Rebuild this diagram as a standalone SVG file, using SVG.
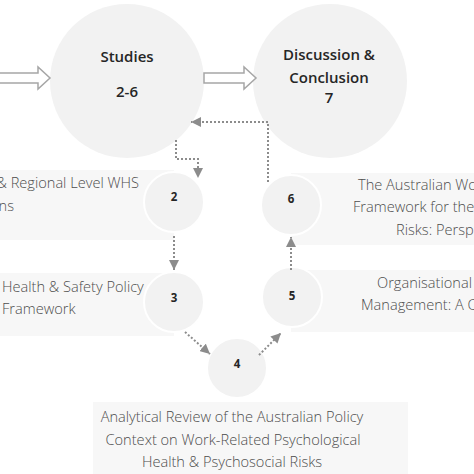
<svg xmlns="http://www.w3.org/2000/svg" width="474" height="474" viewBox="0 0 474 474">
<style>
.big{fill:#f2f2f2}
.sm{fill:#f2f2f2;stroke:#ffffff;stroke-width:2}
.box{fill:#f7f7f7}
.hollow{fill:#ffffff;stroke:#a6a6a6;stroke-width:1.5}
.dot{fill:none;stroke:#8c8c8c;stroke-width:2;stroke-dasharray:2 2}
.title{font-family:"Open Sans","Noto Sans",sans-serif;font-weight:600;font-size:15px;fill:#262626;text-anchor:middle}
.num{font-family:"Open Sans","Noto Sans",sans-serif;font-weight:700;font-size:11.5px;fill:#262626;text-anchor:middle}
.desc{font-family:"Open Sans","Noto Sans",sans-serif;font-weight:300;font-size:14.6px;fill:#4d4d4d}
</style>
<defs>
<marker id="ah" markerUnits="userSpaceOnUse" markerWidth="10" markerHeight="10" refX="10" refY="5" orient="auto">
<path d="M0,0 L10,5 L0,10 Z" fill="#8c8c8c"/>
</marker>
</defs>
<rect width="474" height="474" fill="#ffffff"/>

<g id="box-2"><rect class="box" x="0" y="170" width="174" height="70"/>
<text class="desc" x="139" y="188" text-anchor="end">&amp; Regional Level WHS</text>
<text class="desc" x="14" y="211" text-anchor="end">ns</text></g>
<g id="box-3"><rect class="box" x="0" y="273" width="174" height="63"/>
<text class="desc" x="2" y="292">Health &amp; Safety Policy</text>
<text class="desc" x="2" y="314">Framework</text></g>
<g id="box-6"><rect class="box" x="291" y="173" width="183" height="72"/>
<text class="desc" x="358" y="190">The Australian Wo</text>
<text class="desc" x="353" y="212">Framework for the</text>
<text class="desc" x="396" y="235">Risks: Persp</text></g>
<g id="box-5"><rect class="box" x="291" y="270" width="183" height="62"/>
<text class="desc" x="377" y="288">Organisational</text>
<text class="desc" x="361" y="310">Management: A C</text></g>
<g id="box-4"><rect class="box" x="93" y="402" width="315" height="72"/>
<text class="desc" x="232" y="422" text-anchor="middle">Analytical Review of the Australian Policy</text>
<text class="desc" x="233" y="445" text-anchor="middle">Context on Work-Related Psychological</text>
<text class="desc" x="232" y="467" text-anchor="middle">Health &amp; Psychosocial Risks</text></g>

<g id="studies"><circle class="big" cx="127" cy="81" r="77"/>
<text class="title" x="127" y="62">Studies</text>
<text class="title" x="127" y="97">2-6</text></g>
<g id="discussion"><circle class="big" cx="330" cy="81" r="77"/>
<text class="title" x="329" y="60">Discussion &amp;</text>
<text class="title" x="329" y="83">Conclusion</text>
<text class="title" x="329" y="103">7</text></g>

<g id="n2"><circle class="sm" cx="174" cy="202" r="30"/><text class="num" x="174" y="201">2</text></g>
<g id="n3"><circle class="sm" cx="174" cy="302" r="30"/><text class="num" x="174" y="302">3</text></g>
<g id="n4"><circle class="sm" cx="237" cy="368" r="30"/><text class="num" x="237" y="368">4</text></g>
<g id="n5"><circle class="sm" cx="292" cy="297" r="30"/><text class="num" x="292" y="300">5</text></g>
<g id="n6"><circle class="sm" cx="291" cy="205" r="30"/><text class="num" x="291" y="203">6</text></g>

<g id="connectors">
<path class="hollow" d="M-2,73 H38 V67 L50,78 L38,89 V83 H-2 Z"/>
<path class="hollow" d="M204,73 H244 V67 L256,78 L244,89 V83 H204 Z"/>
<path class="dot" d="M176,140 V159 H198 V178" marker-end="url(#ah)"/>
<path class="dot" d="M268,182 V122 H191" marker-end="url(#ah)"/>
<path class="dot" d="M174,236 V270" marker-end="url(#ah)"/>
<path class="dot" d="M185,332 L210,354" marker-end="url(#ah)"/>
<path class="dot" d="M259,355 L281,333" marker-end="url(#ah)"/>
<path class="dot" d="M291,270 V237" marker-end="url(#ah)"/>
</g>
</svg>
